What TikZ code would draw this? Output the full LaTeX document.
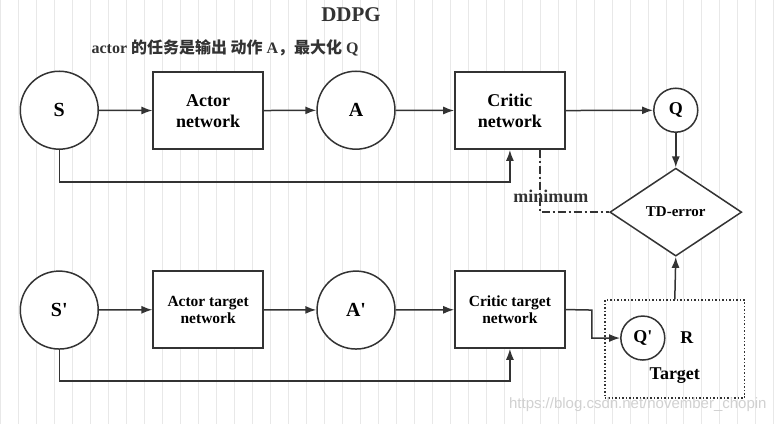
\documentclass[tikz,border=0pt]{standalone}
\usepackage{fontspec}
\setmainfont{Liberation Serif}
\newfontfamily\wmfont{Liberation Sans}
\newfontfamily\cjk{Noto Sans CJK SC}
\usetikzlibrary{shapes.geometric,arrows.meta}
\begin{document}
\begin{tikzpicture}[x=1pt,y=-1pt,
  lw/.style={line width=1.5pt,draw=black!80},
  circ/.style={circle,lw,fill=white,minimum size=#1,inner sep=0pt,font=\bfseries\fontsize{20}{22}\selectfont},
  box/.style={rectangle,lw,fill=white,minimum width=110,minimum height=77,align=center,inner sep=1pt},
  big/.style={font=\bfseries\fontsize{18}{21}\selectfont},
  small/.style={font=\bfseries\fontsize{15.5}{17}\selectfont},
  arr/.style={lw,-{Latex[length=11pt,width=8pt]}}]
\fill[white] (0,0) rectangle (783,424);
\draw[black!9,line width=0.6pt,step=18] (0,0) grid (783,424);
\useasboundingbox (0,0) rectangle (783,424);
\node[font=\bfseries\fontsize{21}{23}\selectfont,text=black!80] (title) at (351,14) {DDPG};
\node[font=\bfseries\fontsize{16}{18}\selectfont,text=black!80] (sub) at (225,48) {actor {\cjk 的任务是输出 动作} A{\cjk ，最大化} Q};
\node[circ=78] (S) at (59,110) {S};
\node[box,big] (AN) at (208,110.5) {Actor\\network};
\node[circ=78] (A) at (356,110) {A};
\node[box,big] (CN) at (510,110.5) {Critic\\network};
\node[circ=44,font=\bfseries\fontsize{18}{20}\selectfont] (Q) at (676,110) {Q};
\node[diamond,lw,fill=white,minimum width=132,minimum height=88,inner sep=0pt,font=\bfseries\fontsize{15}{17}\selectfont] (TD) at (676,212) {TD-error};
\node[big,text=black!80] (min) at (551,196) {minimum};
\node[circ=78] (S2) at (59,310) {S\textquotesingle};
\node[box,small] (AT) at (208,309.5) {Actor target\\network};
\node[circ=78] (A2) at (356,310) {A\textquotesingle};
\node[box,small] (CT) at (510,309.5) {Critic target\\network};
\node[rectangle,draw=black!80,line width=1.5pt,dotted,minimum width=140,minimum height=98,inner sep=0pt] (T) at (675,349) {};
\node[circ=44,font=\bfseries\fontsize{18}{20}\selectfont] (Q2) at (643,338) {Q\textquotesingle};
\node[big] (R) at (687,338) {R};
\node[big] (Tt) at (675,376) {Target};
\node[text=black!18,font=\wmfont\fontsize{15}{17}\selectfont] (wm) at (638,405) {https://blog.csdn.net/november\_chopin};
\draw[arr] (S) -- (AN);
\draw[arr] (AN) -- (A);
\draw[arr] (A) -- (CN);
\draw[arr] (CN) -- (Q);
\draw[arr] (Q) -- (TD);
\draw[arr] (S.south) |- (59,182) -| (CN.south);
\draw[lw,dash pattern=on 8pt off 3pt on 2pt off 3pt] ([xshift=30]CN.south) |- (TD.west);
\draw[arr] (S2) -- (AT);
\draw[arr] (AT) -- (A2);
\draw[arr] (A2) -- (CT);
\draw[arr] (S2.south) |- (59,381) -| (CT.south);
\draw[arr] (CT.east) -- (592,310) |- (Q2.west);
\draw[arr] (T.north) -- (TD.south);
\end{tikzpicture}
\end{document}
